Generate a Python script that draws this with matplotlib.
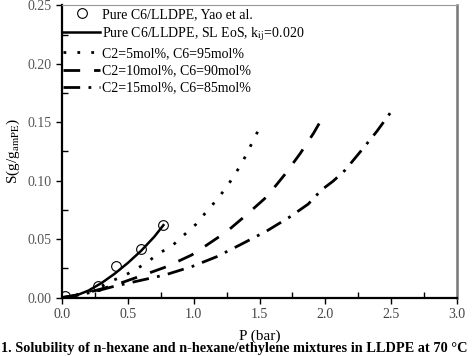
import matplotlib
matplotlib.use('Agg')
import matplotlib.pyplot as plt
import numpy as np

# experimental data (Yao et al.)
p_exp = [0.02, 0.27, 0.41, 0.60, 0.77]
s_exp = [0.001, 0.010, 0.0274, 0.0416, 0.062]

# SL EoS, pure C6
p_c6 = [0.0, 0.1, 0.2, 0.3, 0.4, 0.5, 0.6, 0.7, 0.77]
s_c6 = [0.0, 0.0015, 0.0060, 0.0125, 0.0205, 0.0297, 0.0400, 0.0520, 0.0620]

# C2=5mol%
p_5 = [0.0, 0.1, 0.2, 0.3, 0.377, 0.466, 0.554, 0.643, 0.737, 0.833, 0.921, 1.017, 1.093, 1.17, 1.24, 1.30, 1.36, 1.408, 1.453, 1.50]
s_5 = [0.0, 0.002, 0.005, 0.0095, 0.0143, 0.0185, 0.0237, 0.030, 0.038, 0.044, 0.053, 0.0627, 0.073, 0.083, 0.093, 0.103, 0.114, 0.124, 0.1348, 0.145]

# C2=10mol%
p_10 = [0.0, 0.1, 0.2, 0.3, 0.4, 0.491, 0.643, 0.795, 0.985, 1.10, 1.25, 1.40, 1.555, 1.69, 1.81, 1.91, 2.00]
s_10 = [0.0, 0.002, 0.0045, 0.0075, 0.0107, 0.0143, 0.0203, 0.0265, 0.0365, 0.045, 0.0564, 0.0707, 0.0863, 0.105, 0.1234, 0.1405, 0.158]

# C2=15mol%
p_15 = [0.0, 0.1, 0.2, 0.3, 0.4, 0.579, 0.782, 0.985, 1.175, 1.35, 1.555, 1.73, 1.87, 1.97, 2.06, 2.15, 2.275, 2.39, 2.50]
s_15 = [0.0, 0.0018, 0.004, 0.0068, 0.0098, 0.0143, 0.0194, 0.0265, 0.035, 0.045, 0.057, 0.069, 0.080, 0.092, 0.0997, 0.109, 0.126, 0.142, 0.159]

plt.rcParams['font.family'] = 'Liberation Serif'
plt.rcParams['mathtext.fontset'] = 'stix'

fig = plt.figure(figsize=(4.74, 3.56), dpi=100)
ax = fig.add_axes([0.131, 0.164, 0.833, 0.821])

ax.plot(p_exp, s_exp, 'o', mfc='none', mec='k', ms=7, mew=0.8,
        label='Pure C6/LLDPE, Yao et al.')
ax.plot(p_c6, s_c6, '-', color='k', lw=1.8,
        label='Pure C6/LLDPE, SL EoS, k$_{\\rm ij}$=0.020')
ax.plot(p_5, s_5, color='k', lw=2, linestyle=(0, (1, 4)),
        label='C2=5mol%, C6=95mol%')
ax.plot(p_10, s_10, color='k', lw=2, linestyle=(0, (6, 5)),
        label='C2=10mol%, C6=90mol%')
ax.plot(p_15, s_15, color='k', lw=2, linestyle=(0, (6, 3, 1, 3)),
        label='C2=15mol%, C6=85mol%')

ax.set_xlim(0, 3.0)
ax.set_ylim(0, 0.25)
ax.set_xticks(np.arange(0, 3.01, 0.5))
ax.set_xticks(np.arange(0.25, 3.0, 0.5), minor=True)
ax.set_yticks(np.arange(0, 0.251, 0.05))
ax.set_yticks(np.arange(0.025, 0.25, 0.05), minor=True)
ax.xaxis.set_major_formatter(plt.FormatStrFormatter('%.1f'))
ax.yaxis.set_major_formatter(plt.FormatStrFormatter('%.2f'))
ax.tick_params(which='major', direction='out', length=4, width=1, labelsize=10, colors='k')
ax.tick_params(which='minor', direction='in', length=4, width=1)
ax.tick_params(axis='y', labelcolor='#555555')
ax.tick_params(axis='x', labelcolor='#444444')

ax.spines['left'].set_linewidth(1.6)
ax.spines['bottom'].set_linewidth(1.6)
ax.spines['right'].set_linewidth(1.8)
ax.spines['right'].set_color('#777777')
ax.spines['top'].set_linewidth(0.8)
ax.spines['top'].set_color('#999999')

ax.set_xlabel('P (bar)', fontsize=11, labelpad=6)
ax.set_ylabel('S(g/g$_{\\rm amPE}$)', fontsize=11, labelpad=4)

ax.legend(loc='upper left', frameon=False, fontsize=10, handlelength=2.6,
          handletextpad=0.2, labelspacing=0.3, borderaxespad=0.0,
          borderpad=0.1, bbox_to_anchor=(0.0, 0.995))

fig.text(0.002, 0.022, '1. Solubility of n-hexane and n-hexane/ethylene mixtures in LLDPE at 70 °C',
         fontsize=10.3, fontweight='bold', ha='left', va='center')

plt.savefig('out.png', dpi=100)
